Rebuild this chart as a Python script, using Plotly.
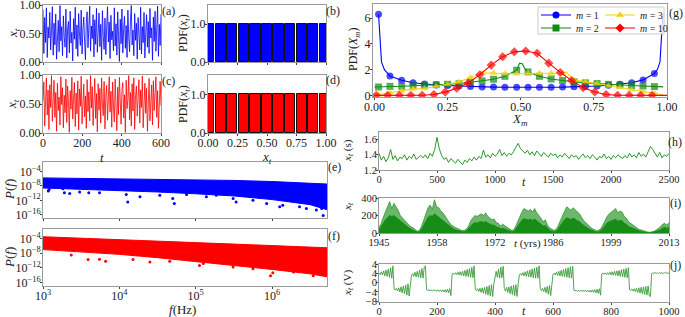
import numpy as np
import plotly.graph_objects as go

W, H = 685, 317
FONT = "Liberation Serif"

# ---------------- data ----------------
# (a) uniform noise series (blue)
a_vals = [0.92, 0.15, 0.78, 0.34, 0.95, 0.08, 0.61, 0.42, 0.87, 0.21, 0.55, 0.97, 0.12, 0.68, 0.30, 0.84, 0.05, 0.49, 0.73, 0.18,
          0.99, 0.37, 0.62, 0.11, 0.81, 0.44, 0.26, 0.93, 0.07, 0.58, 0.71, 0.16, 0.89, 0.33, 0.52, 0.02, 0.76, 0.40, 0.96, 0.23,
          0.65, 0.10, 0.85, 0.47, 0.29, 0.91, 0.14, 0.57, 0.79, 0.36, 0.04, 0.69, 0.88, 0.25, 0.53, 0.98, 0.19, 0.63, 0.41, 0.83,
          0.09, 0.74, 0.31, 0.94, 0.17, 0.50, 0.86, 0.27, 0.66, 0.03, 0.90, 0.45, 0.22, 0.77, 0.13, 0.60, 0.97, 0.35, 0.70, 0.06,
          0.82, 0.39, 0.54, 0.20, 0.95, 0.28, 0.67, 0.12, 0.88, 0.46, 0.01, 0.75, 0.32, 0.93, 0.16, 0.59, 0.80, 0.24, 0.64, 0.08,
          0.91, 0.43, 0.18, 0.72, 0.99, 0.30, 0.56, 0.11, 0.85, 0.38, 0.68, 0.05, 0.78, 0.48, 0.21, 0.96, 0.14, 0.62, 0.34, 0.87,
          0.07, 0.51, 0.83, 0.26, 0.71, 0.15, 0.94, 0.42, 0.60, 0.03, 0.79, 0.36, 0.89, 0.19, 0.55, 0.98, 0.10, 0.66, 0.29, 0.84]
# (c) uniform noise series (red)
c_vals = [0.55, 0.88, 0.12, 0.67, 0.95, 0.31, 0.74, 0.06, 0.83, 0.44, 0.99, 0.20, 0.58, 0.91, 0.27, 0.70, 0.03, 0.86, 0.39, 0.62,
          0.14, 0.97, 0.49, 0.78, 0.09, 0.65, 0.35, 0.93, 0.18, 0.81, 0.52, 0.01, 0.73, 0.41, 0.96, 0.24, 0.60, 0.87, 0.11, 0.69,
          0.33, 0.90, 0.05, 0.76, 0.46, 0.98, 0.16, 0.57, 0.84, 0.28, 0.64, 0.08, 0.92, 0.37, 0.71, 0.21, 0.99, 0.43, 0.80, 0.13,
          0.59, 0.94, 0.25, 0.68, 0.02, 0.85, 0.40, 0.77, 0.17, 0.95, 0.50, 0.30, 0.89, 0.07, 0.63, 0.82, 0.22, 0.54, 0.97, 0.36,
          0.72, 0.10, 0.88, 0.45, 0.19, 0.93, 0.61, 0.04, 0.79, 0.32, 0.96, 0.48, 0.15, 0.75, 0.87, 0.26, 0.66, 0.01, 0.91, 0.42,
          0.58, 0.99, 0.23, 0.70, 0.12, 0.85, 0.38, 0.95, 0.06, 0.64, 0.81, 0.29, 0.53, 0.92, 0.17, 0.74, 0.44, 0.98, 0.09, 0.60,
          0.86, 0.34, 0.77, 0.03, 0.68, 0.94, 0.21, 0.51, 0.83, 0.14, 0.90, 0.39, 0.62, 0.97, 0.27, 0.73, 0.08, 0.56, 0.89, 0.47]
t_max_ac = 600

# (b), (d) histograms
hist_centers = [0.01, 0.108, 0.206, 0.304, 0.402, 0.50, 0.598, 0.696, 0.794, 0.892, 0.99]
b_heights = [1.0, 1.0, 1.0, 1.0, 1.0, 0.99, 1.0, 1.0, 1.0, 1.0, 0.99]
d_heights = [1.0, 1.0, 1.0, 1.0, 1.0, 1.0, 1.0, 1.0, 1.0, 1.0, 1.0]

# (e), (f) power spectra: log10 f grid, band envelopes (log10 P) and sparse low points
ps_logf = [3.0, 3.5, 4.0, 4.5, 5.0, 5.5, 6.0, 6.5, 6.72]
e_upper = [-5.8, -5.9, -6.05, -6.15, -6.3, -6.5, -6.8, -7.2, -7.5]
e_lower = [-8.6, -8.9, -9.3, -9.7, -10.2, -10.8, -11.8, -13.2, -14.6]
e_out_logf = [3.07, 3.08, 3.26, 3.28, 3.35, 3.48, 3.6, 3.74, 4.09, 4.11, 4.27, 4.53, 4.7, 4.72, 4.88, 5.14,
              5.27, 5.49, 5.53, 5.75, 5.93, 6.1, 6.14, 6.36, 6.45, 6.58, 6.65, 6.67]
e_out_logp = [-9.4, -9.0, -8.8, -9.9, -10.1, -9.7, -9.9, -9.9, -10.4, -12.5, -11.0, -10.6, -11.5, -12.9, -10.4, -11.0,
              -10.6, -11.5, -12.5, -12.0, -12.9, -13.8, -13.4, -13.8, -14.3, -14.7, -14.3, -16.2]
f_upper = [-3.5, -3.85, -4.2, -4.65, -5.1, -5.5, -5.9, -6.3, -6.5]
f_lower = [-7.0, -7.6, -8.3, -9.2, -10.2, -11.2, -12.4, -13.6, -14.4]
f_out_logf = [3.37, 3.59, 3.82, 3.74, 4.18, 4.4, 4.66, 5.05, 5.1, 5.49, 5.75, 5.98, 6.01, 6.28, 6.54]
f_out_logp = [-8.5, -9.7, -10.2, -9.6, -9.7, -10.4, -10.2, -11.3, -10.8, -11.7, -12.2, -14.1, -13.3, -13.1, -14.1]

# (g) PDF(X_m): marker points and extra line-only points
g_xm = [0.014, 0.053, 0.093, 0.132, 0.171, 0.211, 0.250, 0.289, 0.328, 0.368, 0.407, 0.446, 0.486,
        0.525, 0.564, 0.604, 0.643, 0.682, 0.721, 0.761, 0.800, 0.839, 0.879, 0.918, 0.957]
g_xm_red = [0.006, 0.045, 0.085, 0.124, 0.163, 0.203, 0.242, 0.281, 0.320, 0.360, 0.399, 0.438, 0.478,
            0.517, 0.556, 0.596, 0.635, 0.674, 0.713, 0.753, 0.792, 0.831, 0.871, 0.910, 0.949]
g_m1 = [6.3, 1.5, 1.17, 0.98, 0.88, 0.80, 0.76, 0.72, 0.68, 0.65, 0.64, 0.63, 0.62,
        0.62, 0.62, 0.63, 0.64, 0.66, 0.69, 0.73, 0.78, 0.86, 0.98, 1.2, 1.7]
g_m1_xl = [0.024, 0.034, 0.043, 0.967, 0.976, 0.986]
g_m1_yl = [2.6, 2.0, 1.72, 2.0, 2.6, 6.3]
g_m2 = [0.65, 0.70, 0.70, 0.75, 0.78, 0.83, 0.86, 0.90, 1.02, 1.12, 1.25, 1.48, 1.95,
        1.82, 1.48, 1.27, 1.15, 1.05, 0.97, 0.92, 0.85, 0.80, 0.76, 0.72, 0.68]
g_m2_xl = [0.0, 0.496, 0.505, 0.515, 0.987]
g_m2_yl = [0.65, 2.5, 2.45, 2.05, 0.66]
g_m3 = [0.05, 0.20, 0.33, 0.50, 0.53, 0.70, 0.86, 1.04, 1.38, 1.74, 1.74, 1.68, 1.68,
        1.72, 1.72, 1.72, 1.70, 1.20, 1.05, 0.90, 0.72, 0.60, 0.42, 0.28, 0.14]
g_m3_xl = [0.0, 0.655, 0.987]
g_m3_yl = [0.02, 1.82, 0.05]
g_m10 = [0.0, 0.0, 0.0, 0.0, 0.01, 0.07, 0.25, 0.55, 0.95, 1.6, 2.35, 3.0, 3.38,
         3.45, 3.27, 2.5, 1.78, 1.15, 0.6, 0.26, 0.06, 0.01, 0.0, 0.0, 0.0]
g_m10_xl = [0.0, 1.0]
g_m10_yl = [0.0, 0.0]

# (h) heart-beat-like series (s)
h_vals = [1.42, 1.33, 1.38, 1.31, 1.36, 1.47,
          1.34, 1.39, 1.32, 1.37, 1.35,
          1.40, 1.33, 1.38, 1.35, 1.41, 1.34, 1.37, 1.39, 1.36, 1.40, 1.35, 1.42,
          1.38, 1.47, 1.63, 1.48,
          1.39, 1.34, 1.36, 1.30, 1.35, 1.32, 1.29, 1.34, 1.31, 1.27, 1.33, 1.30, 1.35, 1.32,
          1.37, 1.33, 1.38, 1.35, 1.46, 1.37, 1.40, 1.36, 1.42, 1.38, 1.41, 1.47, 1.39, 1.43, 1.38, 1.42, 1.40,
          1.44, 1.50, 1.55, 1.48, 1.45,
          1.42, 1.46, 1.40, 1.44, 1.39, 1.45, 1.41, 1.38, 1.43, 1.40, 1.37, 1.42, 1.39,
          1.41, 1.36, 1.40, 1.37, 1.42, 1.38, 1.35, 1.40, 1.37, 1.39,
          1.34, 1.38, 1.41, 1.36, 1.39, 1.35, 1.40, 1.37, 1.33, 1.38,
          1.36, 1.41, 1.35, 1.38, 1.34, 1.39, 1.36, 1.40, 1.37, 1.35,
          1.39, 1.36, 1.42, 1.37, 1.40, 1.36, 1.43, 1.38, 1.41, 1.37,
          1.44, 1.51, 1.47,
          1.41, 1.37, 1.43, 1.36, 1.40, 1.38, 1.42]
h_tmax = 2500

# (i) sunspot-like series: spike envelope and dense core, every half year from 1945 to 2013
i_year0, i_year1 = 1945, 2013
i_upper = [60, 110, 180, 240, 300, 360, 280, 340, 300, 260, 200, 170, 150, 120, 90, 70, 60, 40, 20, 30,
           80, 150, 230, 290, 320, 270, 380, 300, 290, 250, 230, 190, 150, 120, 90, 70, 60, 50, 40, 25,
           30, 45, 80, 140, 170, 200, 190, 210, 220, 200, 230, 190, 170, 150, 160, 120, 110, 80, 100, 80,
           60, 50, 35, 30, 70, 130, 200, 240, 280, 260, 250, 270, 240, 280, 230, 200, 170, 130, 150, 90,
           60, 40, 30, 40, 80, 140, 200, 250, 300, 280, 260, 290, 270, 240, 220, 180, 140, 120, 90, 70,
           50, 35, 25, 30, 50, 90, 150, 190, 220, 240, 260, 280, 230, 250, 240, 190, 170, 130, 110, 90,
           80, 60, 40, 35, 25, 15, 10, 8, 10, 20, 35, 50, 70, 100, 110, 90, 120]
i_core = [40, 70, 110, 150, 180, 200, 190, 200, 180, 160, 130, 110, 95, 80, 60, 45, 35, 25, 10, 15,
          45, 90, 140, 180, 200, 190, 220, 200, 180, 160, 140, 120, 95, 75, 55, 45, 35, 30, 20, 12,
          15, 25, 50, 85, 105, 120, 115, 125, 130, 120, 130, 115, 100, 90, 90, 70, 65, 50, 55, 45,
          35, 25, 18, 15, 40, 80, 120, 145, 165, 155, 150, 160, 145, 160, 135, 120, 100, 80, 85, 55,
          35, 22, 15, 20, 45, 85, 120, 150, 175, 165, 155, 170, 160, 140, 130, 105, 85, 70, 55, 40,
          28, 18, 12, 15, 28, 55, 90, 115, 130, 140, 150, 160, 135, 145, 140, 110, 100, 75, 65, 50,
          45, 35, 22, 18, 12, 7, 4, 3, 5, 10, 20, 28, 40, 58, 65, 55, 70]
i_tick_years = [1945, 1958.6, 1972.2, 1985.8, 1999.4, 2013]
i_tick_text = ["1945", "1958", "1972", "1986", "1999", "2013"]

# (j) electronic-circuit voltage, sampled every 4 time units
j_step = 4
j_v = [4.2, 3.6, 4.8, 3.4, 5.2, 3.0, 5.6, 2.8, 6.0, 2.4, 6.6, 2.0, 7.4,
       -2.6, -3.2, -2.4, -3.6, -2.2, -4.0, -1.8, -4.4, -1.4, -4.8, -1.0, -5.4, -0.4, -5.8, 0.2,
       3.2, 4.0, 2.8, 4.6, 2.6, 5.0, 2.4, 5.6, 2.2, 6.2, 2.0, 6.8, 7.4,
       -3.0, -3.4, -3.0, -3.6, -3.1, -3.5, -3.0, -3.6, -3.2, -3.7, -3.1, -3.8, -3.2, -3.9, -3.1, -4.0, -3.0, -4.2, -2.8, -4.4, -2.6, -5.6,
       3.8, 4.2, 3.6, 4.4, 3.6, 4.6, 3.4, 4.8, 3.2, 5.0, 3.0, 5.4, 2.8, 5.8, 2.6, 6.2, 2.4, 6.8, 2.2, 7.4,
       -2.8, -3.4, -2.6, -3.8, -2.4, -4.2, -2.2, -4.6, -2.0, -5.0, -1.6, -5.4, -1.2, -5.8, -0.8, -6.0, -0.5,
       3.0, 5.0, 2.4, 6.0, 2.0, 6.8, 2.2, 7.2,
       -2.4, -3.6, -2.0, -4.2, -1.8, -4.8, -1.4, -5.2, -1.0, -5.6, -0.8, -6.0, -0.4,
       3.4, 4.0, 3.2, 4.4, 3.0, 4.8, 2.8, 5.2, 2.6, 5.6, 2.4, 6.0, 2.2, 6.4, 2.0, 6.8, 2.0, 7.4,
       -2.6, -3.4, -2.4, -3.8, -2.0, -4.4, -1.6, -5.0, -1.2, -5.6, -0.8,
       3.6, 4.2, 3.4, 4.6, 3.2, 5.0, 3.0, 5.4, 2.8, 5.8, 2.6, 6.2, 2.4, 6.6, 2.2, 7.0, 2.0, 7.2,
       -3.2, -3.6, -3.2, -3.7, -3.3, -3.7, -3.2, -3.8, -3.3, -3.8, -3.2, -3.9, -3.3, -4.0, -3.2, -4.1, -3.1, -4.2, -3.0, -4.4, -2.8, -4.6, -2.6, -5.4,
       3.8, 4.2, 3.7, 4.3, 3.6, 4.4, 3.6, 4.6, 3.4, 4.8, 3.3, 5.0, 3.2, 5.2, 3.0, 5.4, 2.8, 5.7, 2.6, 6.0, 2.4, 6.3, 2.2, 6.6,
       -3.0, -3.4, -2.8, -3.6, -2.6, -3.9, -2.4, -4.2, -2.2, -4.5, -2.0, -4.8, -1.8, -5.1, -1.6, -5.4, -1.4, -5.7, -6.0,
       4.0, 4.4, 4.0, 4.5, 4.1, 4.4, 4.0, 4.5, 4.1, 4.4, 4.0, 4.5, 4.2, 4.4, 4.1, 4.3]
j_tickvals = [8, 4, 0, -4, -8]
j_ticktext = ["4", "4", "0", "\u22124", "\u22128"]

# ---------------- figure ----------------
BLUE, RED, GREEN, GOLD = "#0000ff", "#ff0000", "#138a13", "#f2d10c"

fig = go.Figure()

def dx(l, r):
    return [l / W, r / W]

def dy(t, b):
    return [1 - b / H, 1 - t / H]

axbase = dict(showline=True, linecolor="#9a9a9a", linewidth=1, mirror=True, ticks="outside",
              ticklen=2, tickwidth=1, tickcolor="#444", showgrid=False, zeroline=False, tickangle=0,
              automargin=False, ticklabelstandoff=-3, tickfont=dict(family=FONT, size=12, color="#222"))

def ax(**kw):
    d = dict(axbase)
    d.update(kw)
    return d

# (a)
fig.add_trace(go.Scatter(x=np.linspace(0, t_max_ac, len(a_vals)), y=a_vals, mode="lines",
                         line=dict(color=BLUE, width=0.8), xaxis="x", yaxis="y", showlegend=False))
# (c)
fig.add_trace(go.Scatter(x=np.linspace(0, t_max_ac, len(c_vals)), y=c_vals, mode="lines",
                         line=dict(color=RED, width=0.8), xaxis="x3", yaxis="y3", showlegend=False))
# (b), (d)
fig.add_trace(go.Bar(x=hist_centers, y=b_heights, width=0.086,
                     marker=dict(color=BLUE, line=dict(color="#111", width=1)),
                     xaxis="x2", yaxis="y2", showlegend=False))
fig.add_trace(go.Bar(x=hist_centers, y=d_heights, width=0.086,
                     marker=dict(color=RED, line=dict(color="#111", width=1)),
                     xaxis="x4", yaxis="y4", showlegend=False))

# (e), (f)
def spectrum(xa, ya, up, lo, olf, olp, col):
    fx = [10 ** v for v in ps_logf]
    fig.add_trace(go.Scatter(x=fx, y=[10 ** v for v in lo], mode="lines", line=dict(color=col, width=1),
                             xaxis=xa, yaxis=ya, showlegend=False))
    fig.add_trace(go.Scatter(x=fx, y=[10 ** v for v in up], mode="lines", line=dict(color=col, width=1),
                             fill="tonexty", fillcolor=col, xaxis=xa, yaxis=ya, showlegend=False))
    fig.add_trace(go.Scatter(x=[10 ** v for v in olf], y=[10 ** v for v in olp], mode="markers",
                             marker=dict(color=col, size=3), xaxis=xa, yaxis=ya, showlegend=False))

spectrum("x5", "y5", e_upper, e_lower, e_out_logf, e_out_logp, BLUE)
spectrum("x6", "y6", f_upper, f_lower, f_out_logf, f_out_logp, RED)

# (g)
def gseries(xm, ym, xl, yl, col, sym, name, leg):
    xs = list(xm) + list(xl)
    ys = list(ym) + list(yl)
    sz = [7] * len(xm) + [0] * len(xl)
    order = np.argsort(xs)
    fig.add_trace(go.Scatter(x=[xs[k] for k in order], y=[ys[k] for k in order], mode="lines+markers",
                             line=dict(color=col, width=1.1),
                             marker=dict(color=col, symbol=sym, size=[sz[k] for k in order], line=dict(width=0)),
                             xaxis="x7", yaxis="y7", showlegend=False))
    fig.add_trace(go.Scatter(x=[None], y=[None], mode="lines+markers", name=name,
                             line=dict(color=col, width=1.1), marker=dict(color=col, symbol=sym, size=7),
                             xaxis="x7", yaxis="y7", showlegend=True, legend=leg))

gseries(g_xm, g_m1, g_m1_xl, g_m1_yl, BLUE, "circle", "<i>m</i> = 1", "legend")
gseries(g_xm, g_m2, g_m2_xl, g_m2_yl, GREEN, "square", "<i>m</i> = 2", "legend2")
gseries(g_xm, g_m3, g_m3_xl, g_m3_yl, GOLD, "triangle-up", "<i>m</i> = 3", "legend3")
gseries(g_xm_red, g_m10, g_m10_xl, g_m10_yl, RED, "diamond", "<i>m</i> = 10", "legend4")

# (h)
fig.add_trace(go.Scatter(x=np.linspace(0, h_tmax, len(h_vals)), y=h_vals, mode="lines",
                         line=dict(color=GREEN, width=0.9), xaxis="x8", yaxis="y8", showlegend=False))
# (i)
fig.add_trace(go.Scatter(x=np.linspace(i_year0, i_year1, len(i_upper)), y=i_upper, mode="lines",
                         line=dict(color="rgba(19,138,19,0.9)", width=0.7), fill="tozeroy",
                         fillcolor="rgba(19,138,19,0.62)", xaxis="x9", yaxis="y9", showlegend=False))
fig.add_trace(go.Scatter(x=np.linspace(i_year0, i_year1, len(i_core)), y=i_core, mode="lines",
                         line=dict(color=GREEN, width=0.7), fill="tozeroy",
                         fillcolor="rgba(19,138,19,0.95)", xaxis="x9", yaxis="y9", showlegend=False))
# (j)
fig.add_trace(go.Scatter(x=np.arange(len(j_v)) * j_step, y=j_v, mode="lines",
                         line=dict(color="#3c9c3c", width=0.9), xaxis="x10", yaxis="y10", showlegend=False))

q_ticks = [0, 0.25, 0.5, 0.75, 1.0]
q_text = ["0.00", "0.25", "0.50", "0.75", "1.00"]
logticks = [1e3, 1e4, 1e5, 1e6]
logtext = ["10<sup>3</sup>", "10<sup>4</sup>", "10<sup>5</sup>", "10<sup>6</sup>"]
pticks = [1e-4, 1e-8, 1e-12, 1e-16]
ptext = ["10<sup>\u22124</sup>", "10<sup>\u22128</sup>", "10<sup>\u221212</sup>", "10<sup>\u221216</sup>"]
small = dict(family=FONT, size=10.5, color="#222")
legfont = dict(family=FONT, size=10, color="#222")

def legend_at(x, y):
    return dict(x=x / W, y=1 - y / H, xanchor="left", yanchor="middle", orientation="v",
                bgcolor="rgba(0,0,0,0)", borderwidth=0, font=legfont, itemwidth=30)

fig.update_layout(
    width=W, height=H, margin=dict(l=0, r=0, t=0, b=0, autoexpand=False),
    paper_bgcolor="white", plot_bgcolor="white", bargap=0,
    font=dict(family=FONT, size=12, color="#222"),
    xaxis=ax(domain=dx(43, 161), range=[0, 600], tickvals=[0, 200, 400, 600], showticklabels=False, anchor="y"),
    yaxis=ax(domain=dy(5, 62), range=[0, 1], tickvals=[0, 0.5, 1], ticktext=["0.00", "0.50", "1.00"], anchor="x"),
    xaxis2=ax(domain=dx(208, 326), range=[0, 1], tickvals=q_ticks, showticklabels=False, anchor="y2"),
    yaxis2=ax(domain=dy(5, 62), range=[0, 1.5], tickvals=[0, 1], ticktext=["0.0", "1.0"], anchor="x2"),
    xaxis3=ax(domain=dx(43, 161), range=[0, 600], tickvals=[0, 200, 400, 600], anchor="y3"),
    yaxis3=ax(domain=dy(75, 133), range=[0, 1], tickvals=[0, 0.5, 1], ticktext=["0.00", "0.50", "1.00"], anchor="x3"),
    xaxis4=ax(domain=dx(208, 326), range=[0, 1], tickvals=q_ticks, ticktext=q_text, anchor="y4"),
    yaxis4=ax(domain=dy(75, 133), range=[0, 1.5], tickvals=[0, 1], ticktext=["0.0", "1.0"], anchor="x4"),
    xaxis5=ax(domain=dx(43, 327), type="log", range=[3, 6.72], tickvals=logticks, showticklabels=False, anchor="y5"),
    yaxis5=ax(domain=dy(162, 218), type="log", range=[-16.9, -1.4], tickvals=pticks, ticktext=ptext, anchor="x5"),
    xaxis6=ax(domain=dx(43, 327), type="log", range=[3, 6.72], tickvals=logticks, ticktext=logtext, anchor="y6"),
    yaxis6=ax(domain=dy(229, 286), type="log", range=[-16.9, -1.4], tickvals=pticks, ticktext=ptext, anchor="x6"),
    xaxis7=ax(domain=dx(373, 667), range=[-0.005, 1.0], tickvals=q_ticks, ticktext=q_text, anchor="y7"),
    yaxis7=ax(domain=dy(4, 97), range=[-0.13, 7.1], tickvals=[0, 2, 4, 6], anchor="x7"),
    xaxis8=ax(domain=dx(379, 669), range=[0, 2500], tickvals=[0, 500, 1000, 1500, 2000, 2500], tickfont=small, anchor="y8"),
    yaxis8=ax(domain=dy(132, 170), range=[1.2, 1.70], tickvals=[1.2, 1.4, 1.6], ticktext=["1.2", "1.4", "1.6"], tickfont=small, anchor="x8"),
    xaxis9=ax(domain=dx(379, 669), range=[1945, 2013], tickvals=i_tick_years, ticktext=i_tick_text, tickfont=small, anchor="y9"),
    yaxis9=ax(domain=dy(198, 233), range=[0, 400], tickvals=[0, 200, 400], tickfont=small, anchor="x9"),
    xaxis10=ax(domain=dx(379, 669), range=[0, 1000], tickvals=[0, 200, 400, 600, 800, 1000], tickfont=small, anchor="y10"),
    yaxis10=ax(domain=dy(264, 302), range=[-8.4, 8.2], tickvals=j_tickvals, ticktext=j_ticktext, tickfont=small, anchor="x10"),
    legend=legend_at(536, 15),
    legend2=legend_at(536, 28),
    legend3=legend_at(600, 15),
    legend4=legend_at(600, 28),
)

# legend frame (matplotlib-style box behind the legend entries)
fig.add_shape(type="rect", xref="paper", yref="paper", x0=538 / W, x1=664 / W, y0=1 - 34 / H, y1=1 - 7 / H,
              line=dict(color="#cccccc", width=1), fillcolor="rgba(255,255,255,0.8)", layer="above")

def lab(text, x, y, size=12, angle=0):
    fig.add_annotation(text=text, x=x / W, y=1 - y / H, xref="paper", yref="paper", showarrow=False,
                       textangle=angle, font=dict(family=FONT, size=size, color="#222"),
                       xanchor="center", yanchor="middle")

XT = "<i>x</i><sub><i>t</i></sub>"
# panel letters
for t, x, y in [("(a)", 168, 11), ("(b)", 333, 11), ("(c)", 168, 81), ("(d)", 333, 80), ("(e)", 334, 167),
                ("(f)", 334, 236), ("(g)", 676, 13), ("(h)", 675, 142), ("(i)", 675, 203), ("(j)", 675, 265)]:
    lab(t, x, y, 12)
# axis titles
lab(XT, 13, 33, 13, -90)
lab(XT, 13, 104, 13, -90)
lab("PDF(" + XT + ")", 184, 33, 12, -90)
lab("PDF(" + XT + ")", 184, 104, 12, -90)
lab("<i>t</i>", 102, 157, 13)
lab(XT, 267, 157, 13)
lab("<i>P</i>(<i>f</i>)", 9, 190, 13, -90)
lab("<i>P</i>(<i>f</i>)", 9, 258, 13, -90)
lab("<i>f</i>(Hz)", 183, 309, 13)
lab("PDF(<i>X</i><sub><i>m</i></sub>)", 354, 50, 12, -90)
lab("<i>X</i><sub><i>m</i></sub>", 520, 119, 13)
lab(XT + " (s)", 348, 150, 11, -90)
lab("<i>t</i>", 524, 182, 12)
lab(XT, 348, 206, 11, -90)
lab("<i>t</i> (yrs)", 527, 243, 11)
lab(XT + " (V)", 348, 283, 11, -90)
lab("<i>t</i>", 524, 311, 12)

fig.write_html("out.html", config={"displayModeBar": False},
               post_script="document.body.style.margin='0px';document.body.style.overflow='hidden';")
